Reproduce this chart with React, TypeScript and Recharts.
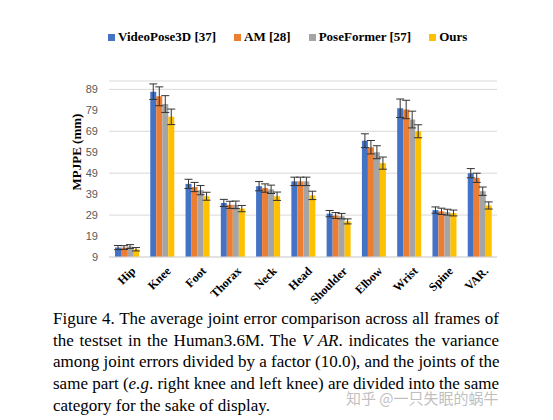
import { BarChart, Bar, XAxis, YAxis, CartesianGrid, Legend, ErrorBar } from "recharts";

document.body.style.margin = "0";

const categories = ["Hip", "Knee", "Foot", "Thorax", "Neck", "Head", "Shoulder", "Elbow", "Wrist", "Spine", "VAR."];

const videoPose = [13.5, 87.9, 43.9, 34.8, 42.8, 45.1, 29.7, 64.5, 80.0, 31.4, 49.0];
const am = [13.5, 85.7, 42.4, 33.9, 41.9, 45.1, 28.8, 61.4, 79.4, 30.8, 46.8];
const poseFormer = [14.0, 82.0, 40.9, 33.9, 41.3, 45.1, 28.5, 59.0, 74.6, 30.4, 40.4];
const ours = [12.7, 75.9, 38.0, 32.1, 38.0, 38.4, 26.0, 53.8, 69.0, 30.0, 33.6];

// half-width of the error bars
const videoPoseErr = [1.0, 3.7, 2.2, 1.7, 2.2, 2.0, 1.5, 3.3, 4.4, 1.5, 2.2];
const amErr = [0.9, 4.5, 2.2, 1.7, 2.0, 2.0, 1.4, 3.2, 4.4, 1.5, 2.2];
const poseFormerErr = [0.9, 4.0, 2.2, 1.8, 2.0, 2.0, 1.3, 3.1, 4.0, 1.4, 2.0];
const oursErr = [0.8, 3.7, 1.9, 1.5, 2.0, 2.0, 1.2, 2.9, 3.1, 1.4, 1.7];

const yTicks = [9, 19, 29, 39, 49, 59, 69, 79, 89];

const series = [
  { key: "vp", name: "VideoPose3D [37]", color: "#4472C4" },
  { key: "am", name: "AM [28]", color: "#ED7D31" },
  { key: "pf", name: "PoseFormer [57]", color: "#A5A5A5" },
  { key: "ours", name: "Ours", color: "#FFC000" },
];

const data = categories.map((name, i) => ({
  name,
  vp: videoPose[i],
  vpErr: videoPoseErr[i],
  am: am[i],
  amErr: amErr[i],
  pf: poseFormer[i],
  pfErr: poseFormerErr[i],
  ours: ours[i],
  oursErr: oursErr[i],
}));

const serif = "'Liberation Serif', 'Times New Roman', serif";

function CategoryTick({ x, y, payload }: { x?: number; y?: number; payload?: { value: string } }) {
  return (
    <g transform={`translate(${(x ?? 0) + 4},${(y ?? 0) + 1})`}>
      <text
        transform="rotate(-45)"
        textAnchor="end"
        dy={8}
        fontFamily={serif}
        fontWeight="bold"
        fontSize={12}
        fill="#000"
      >
        {payload?.value}
      </text>
    </g>
  );
}

function TopLegend() {
  return (
    <div style={{ display: "flex", justifyContent: "flex-start", paddingLeft: 108, gap: 18 }}>
      {series.map((s) => (
        <div key={s.key} style={{ display: "flex", alignItems: "center" }}>
          <span style={{ width: 7, height: 7, background: s.color, marginRight: 3, display: "inline-block" }} />
          <span style={{ fontFamily: serif, fontWeight: "bold", fontSize: 13, color: "#000" }}>{s.name}</span>
        </div>
      ))}
    </div>
  );
}

function YLabel() {
  return (
    <text
      x={76}
      y={152}
      transform="rotate(-90 76 152)"
      textAnchor="middle"
      dominantBaseline="central"
      fontFamily={serif}
      fontWeight="bold"
      fontSize={13}
      fill="#000"
    >
      MPJPE (mm)
    </text>
  );
}

const captionLines = [
  <>Figure 4. The average joint error comparison across all frames of</>,
  <>
    the testset in the Human3.6M. The <i>V AR</i>. indicates the variance
  </>,
  <>among joint errors divided by a factor (10.0), and the joints of the</>,
  <>
    same part (<i>e.g</i>. right knee and left knee) are divided into the same
  </>,
];

export default function App() {
  return (
    <div style={{ position: "relative", width: 553, height: 420, background: "#fff", overflow: "hidden" }}>
      <BarChart
        width={553}
        height={306}
        data={data}
        margin={{ top: 65, right: 56, left: 0, bottom: 6 }}
        barGap={0}
        barSize={6}
      >
        <CartesianGrid stroke="#D9D9D9" vertical={false} />
        <XAxis
          dataKey="name"
          interval={0}
          tick={<CategoryTick />}
          tickLine={false}
          axisLine={{ stroke: "#D9D9D9" }}
          height={43}
        />
        <YAxis
          domain={[9, 93]}
          ticks={yTicks}
          allowDataOverflow
          width={109}
          tickLine={false}
          axisLine={false}
          tickMargin={5}
          tick={{ fill: "#595959", fontSize: 11, fontFamily: "'Liberation Sans', Arial, sans-serif" }}
          label={<YLabel />}
        />
        <Legend verticalAlign="top" content={<TopLegend />} wrapperStyle={{ top: 29, left: 0, width: 553 }} />
        {series.map((s) => (
          <Bar key={s.key} dataKey={s.key} name={s.name} fill={s.color} isAnimationActive={false}>
            <ErrorBar dataKey={`${s.key}Err`} width={4} stroke="#333" strokeWidth={1} direction="y" />
          </Bar>
        ))}
      </BarChart>
      <div
        style={{
          position: "absolute",
          left: 53,
          top: 308,
          width: 446,
          fontFamily: serif,
          fontSize: 17,
          lineHeight: "21.7px",
          color: "#000",
        }}
      >
        {captionLines.map((line, i) => (
          <div key={i} style={{ textAlign: "justify", textAlignLast: "justify", whiteSpace: "nowrap" }}>
            {line}
          </div>
        ))}
        <div>category for the sake of display.</div>
      </div>
      <div
        style={{
          position: "absolute",
          left: 346,
          top: 387,
          fontFamily: "'Noto Sans CJK SC', sans-serif",
          fontSize: 15,
          color: "rgba(170,170,170,0.75)",
          whiteSpace: "nowrap",
        }}
      >
        知乎 @一只失眠的蜗牛
      </div>
    </div>
  );
}
